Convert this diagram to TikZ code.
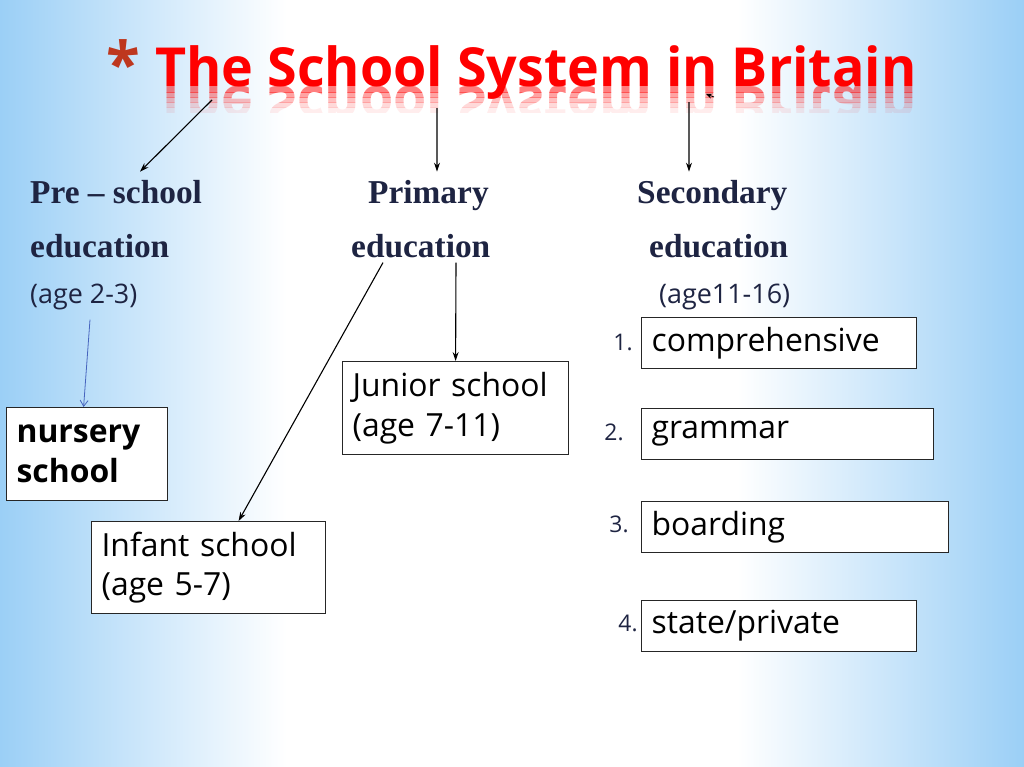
\documentclass[tikz,border=0pt]{standalone}
\usepackage{fontspec}
\setmainfont{Open Sans}
\newfontfamily\headfont{Liberation Serif}
\usetikzlibrary{arrows.meta}
\definecolor{bgblue}{RGB}{155,207,246}
\definecolor{headnavy}{RGB}{30,36,66}
\definecolor{starred}{RGB}{190,55,30}
\definecolor{linkblue}{RGB}{70,100,190}
\pgfdeclarehorizontalshading{slidebg}{100bp}{color(0bp)=(bgblue); color(25bp)=(bgblue); color(39bp)=(white); color(61bp)=(white); color(75bp)=(bgblue); color(100bp)=(bgblue)}
\tikzset{
  titletext/.style={anchor=base, inner sep=0pt, text=red, font=\bfseries\fontsize{54}{60}\selectfont},
  head/.style={anchor=base west, inner sep=0pt, text=headnavy, font=\headfont\bfseries\fontsize{33.5}{40}\selectfont},
  agetext/.style={anchor=base west, inner sep=0pt, text=headnavy, font=\fontsize{27}{32}\selectfont},
  num/.style={inner sep=0pt, text=headnavy, font=\fontsize{23}{26}\selectfont},
  box/.style={draw=black!85, line width=1.2bp, fill=white, anchor=north west, inner xsep=10bp, align=left, font=\fontsize{32}{40}\selectfont},
  link/.style={line width=1.1bp, -{Stealth[length=9bp,width=6bp]}},
}
\begin{document}
\begin{tikzpicture}[x=1bp,y=-1bp]
    \useasboundingbox (0,0) rectangle (1024,767);
    % background
    \fill[shading=slidebg] (0,0) rectangle (1024,767);
    % title with its reflection
    \node[text=starred, inner sep=0pt, font=\bfseries\fontsize{62}{62}\selectfont] (star) at (123,63) {*};
    \node[titletext] (title) at (536,87) {The School System in Britain};
    \foreach \k/\op in {0/0.5,1/0.36,2/0.25,3/0.15,4/0.07}{
      \begin{scope}
        \clip (100,{87+5*\k}) rectangle (1000,{92+5*\k});
        \begin{scope}[shift={(536,87)}, yscale=-1]
          \node[titletext, transform shape, opacity=\op] at (0,0) {The School System in Britain};
        \end{scope}
      \end{scope}
    }
    \coordinate (t1) at (212,100);
    \coordinate (t2) at (437,108);
    \coordinate (t3) at (689,102);
    \coordinate (s1) at (714,97);
    \coordinate (s2) at (706,94);
    % three kinds of education
    \node[head] (pre1) at (30,203) {Pre – school};
    \node[head] (pre2) at (30,257) {education};
    \node[agetext] (pre3) at (30,303) {(age 2-3)};
    \node[head] (prim1) at (368,203) {Primary};
    \node[head] (prim2) at (351,257) {education};
    \node[head] (sec1) at (637,203) {Secondary};
    \node[head] (sec2) at (649,257) {education};
    \node[agetext] (sec3) at (659,303) {(age11-16)};
    % schools
    \node[box, text width=141bp, minimum height=93bp] (nursery) at (6,407) {\bfseries nursery\\\bfseries school};
    \node[box, text width=214bp, minimum height=92bp] (infant) at (91,521) {Infant school\\(age 5-7)};
    \node[box, text width=206bp, minimum height=93bp] (junior) at (342,361) {Junior school\\(age 7-11)};
    \node[box, text width=255bp, minimum height=51bp] (compr) at (641,317) {comprehensive};
    \node[box, text width=272bp, minimum height=51bp] (gramm) at (641,408) {grammar};
    \node[box, text width=287bp, minimum height=51bp] (board) at (641,501) {boarding};
    \node[box, text width=255bp, minimum height=51bp] (state) at (641,600) {state/private};
    \node[num] (n1) at (623,342) {1.};
    \node[num] (n2) at (614,432) {2.};
    \node[num] (n3) at (619,524) {3.};
    \node[num] (n4) at (628,623) {4.};
    % arrows
    \draw[link] (t1) -- ([xshift=110bp, yshift=8bp]pre1.north west);
    \draw[link] (t2) -- ([xshift=69bp, yshift=8bp]prim1.north west);
    \draw[link] (t3) -- ([xshift=52bp, yshift=8bp]sec1.north west);
    \draw[line width=0.8bp, -{Stealth[length=6bp,width=5bp]}] (s1) -- (s2);
    \draw[link, linkblue, line width=0.8bp, -{Straight Barb[length=6bp,width=8bp]}] ([xshift=60bp, yshift=-10bp]pre3.south west) -- ([xshift=-3.5bp]nursery.north);
    \draw[link] ([xshift=32bp, yshift=-5bp]prim2.south west) -- ([xshift=30bp]infant.north);
    \draw[link] ([xshift=105bp, yshift=-5bp]prim2.south west) -- (junior.north);
\end{tikzpicture}
\end{document}
